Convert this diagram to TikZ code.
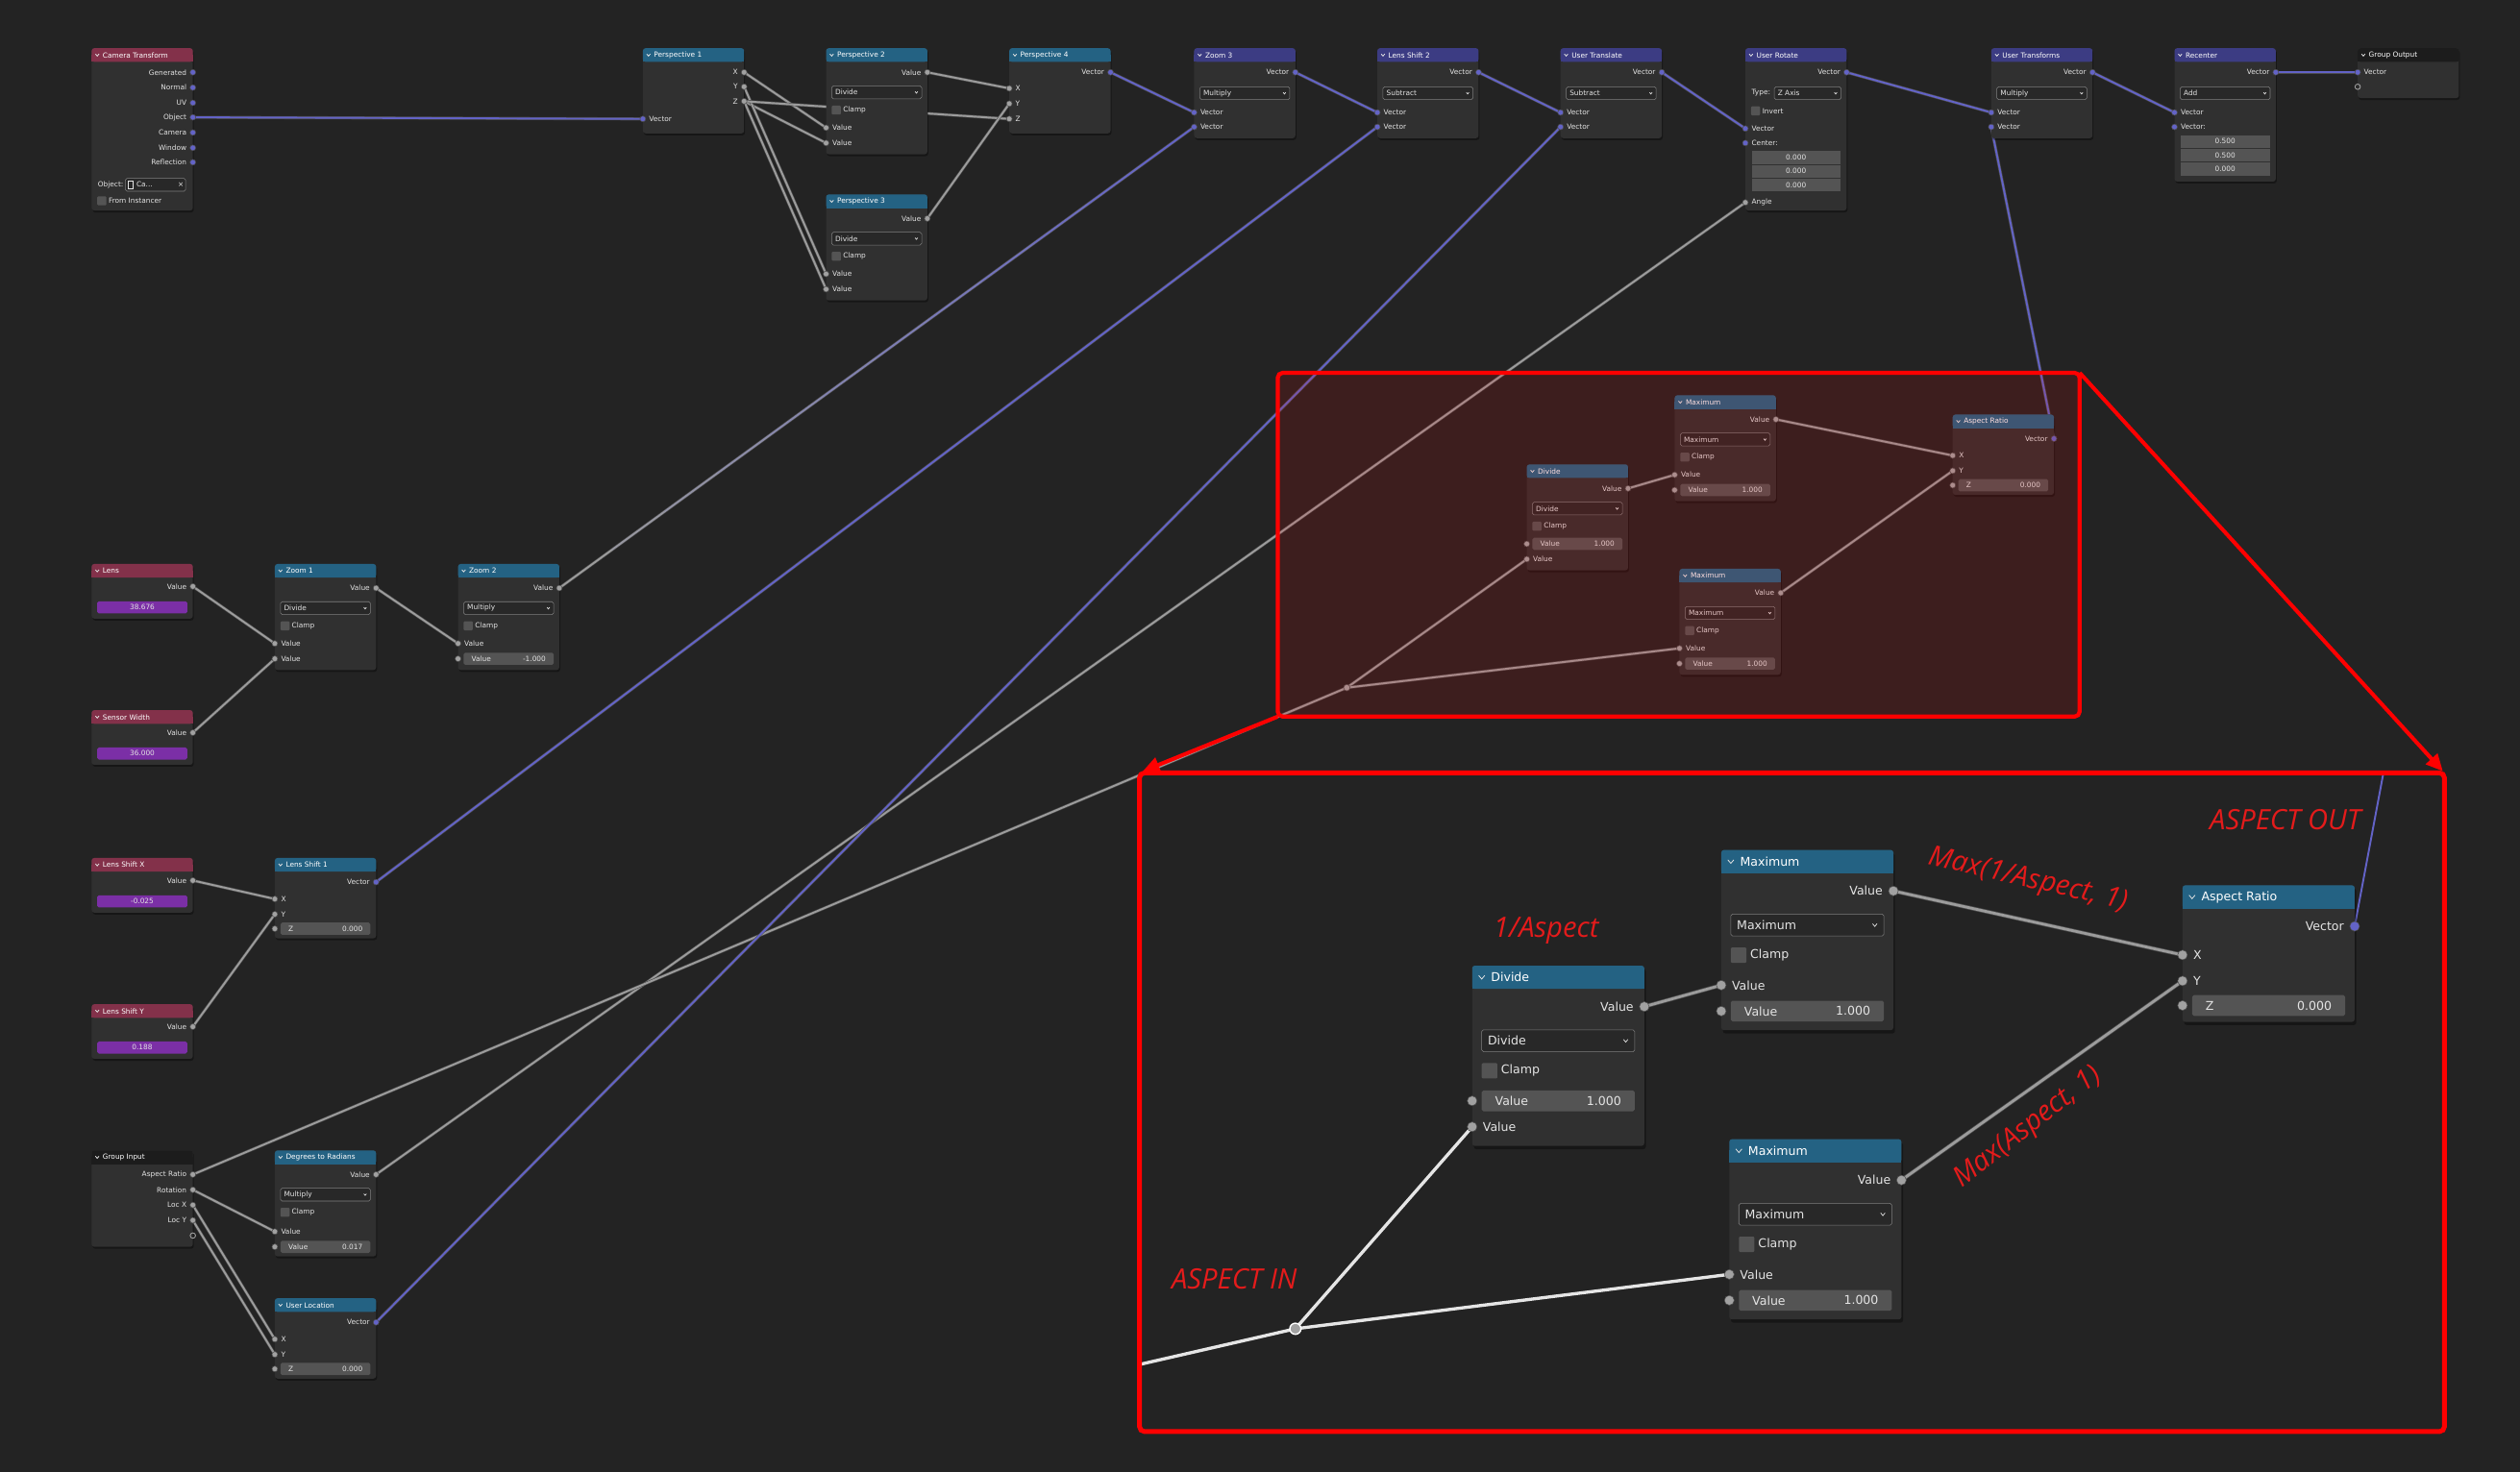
\documentclass[tikz,border=0pt]{standalone}
\usepackage{fontspec}
\setmainfont{DejaVu Sans}
\newfontfamily\handfont{Open Sans}
\usetikzlibrary{arrows.meta, calc}

\definecolor{canvas}{HTML}{232323}
\definecolor{nodebody}{HTML}{303030}
\definecolor{hdrinput}{HTML}{83314A}
\definecolor{hdrconv}{HTML}{246283}
\definecolor{hdrvec}{HTML}{3C3C83}
\definecolor{hdrgroup}{HTML}{1C1C1C}
\definecolor{sockgrey}{HTML}{A1A1A1}
\definecolor{sockvec}{HTML}{6363C7}
\definecolor{wiregrey}{HTML}{9C9C9C}
\definecolor{fieldbg}{HTML}{545454}
\definecolor{ddbg}{HTML}{282828}
\definecolor{valpurple}{HTML}{7B2FA6}
\definecolor{textlight}{HTML}{E4E4E4}
\definecolor{markred}{HTML}{FF0000}
\definecolor{inkred}{HTML}{E41B1B}

\pgfdeclarelayer{back}
\pgfdeclarelayer{wires}
\pgfsetlayers{back,wires,main}

\newcommand{\lblfont}{\fontsize{2.1}{2.4}\selectfont}

% one node: frame, header, title  (#1 name, #2 height, #3 header colour, #4 title)
\newcommand{\nodeframe}[4]{%
  \fill[black, opacity=0.35, rounded corners=0.8pt] (0.6,1.2) rectangle (63.6,#2+1.2);
  \fill[nodebody, rounded corners=0.8pt] (0,0) rectangle (63,#2);
  \fill[#3, rounded corners=0.8pt] (0,0) rectangle (63,8.5);
  \fill[#3] (0,4) rectangle (63,8.5);
  \draw[textlight, line width=0.22pt] (2.4,3.6) -- (3.5,4.9) -- (4.6,3.6);
  \node[ttl, anchor=west] at (6.5,4.3) {#4};
  \coordinate (#1) at (31.5,#2/2);}
\newcommand{\sockout}[4]{%
  \node[#4] (#1) at (63,#2) {};
  \node[lbl, anchor=east] at (59.5,#2) {#3};}
\newcommand{\sockin}[4]{%
  \node[#4] (#1) at (0,#2) {};
  \node[lbl, anchor=west] at (3.5,#2) {#3};}
\newcommand{\valfield}[4]{%
  \node[fsock] (#1) at (0,#2) {};
  \fill[fieldbg, rounded corners=0.5pt] (3.5,#2-3.8) rectangle (59.5,#2+3.8);
  \node[lbl, anchor=west] at (8,#2) {#3};
  \node[lbl, anchor=east] at (55,#2) {#4};}
\newcommand{\numfield}[2]{%
  \filldraw[fill=fieldbg, draw=nodebody, line width=0.2pt] (3.5,#1-4.3) rectangle (59.5,#1+4.3);
  \node[lbl] at (31.5,#1) {#2};}
\newcommand{\dropbox}[3]{%
  \filldraw[fill=ddbg, draw=black!50, line width=0.15pt, rounded corners=0.5pt] (#1,#2-4) rectangle (59.5,#2+4);
  \node[lbl, anchor=west] at (#1+1.8,#2) {#3};
  \draw[textlight, line width=0.2pt] (55.4,#2-0.5) -- (56.2,#2+0.5) -- (57,#2-0.5);}
\newcommand{\checkrow}[2]{%
  \fill[fieldbg, rounded corners=0.3pt] (3.5,#1-2.8) rectangle (9.2,#1+2.8);
  \node[lbl, anchor=west] at (10.2,#1) {#2};}

\newcommand{\mathbox}[3]{%
  \nodeframe{#1}{66}{hdrconv}{#2}
  \sockout{#1-out}{15}{Value}{fsock}
  \dropbox{3.5}{27.5}{#3}
  \checkrow{38.5}{Clamp}}
\newcommand{\vecbox}[3]{%
  \nodeframe{#1}{56}{hdrvec}{#2}
  \sockout{#1-out}{15}{Vector}{vsock}
  \dropbox{3.5}{28}{#3}
  \sockin{#1-a}{40}{Vector}{vsock}
  \sockin{#1-b}{49}{Vector}{vsock}}
\newcommand{\combbox}[2]{%
  \nodeframe{#1}{50}{hdrconv}{#2}
  \sockout{#1-out}{15}{Vector}{vsock}
  \sockin{#1-x}{25.5}{X}{fsock}
  \sockin{#1-y}{35}{Y}{fsock}
  \valfield{#1-z}{44}{Z}{0.000}}
\newcommand{\valbox}[3]{%
  \nodeframe{#1}{34}{hdrinput}{#2}
  \sockout{#1-out}{14}{Value}{fsock}
  \fill[valpurple, rounded corners=0.5pt] (3.5,23.2) rectangle (59.5,30.8);
  \node[lbl] at (31.5,27) {#3};}

% float to vector link, colour blends along it
\newcommand{\mixwire}[2]{%
  \draw[line width=0.9pt, black!70] (#1.center) -- (#2.center);
  \foreach \k in {0,...,11}{%
    \pgfmathtruncatemacro{\mixp}{100-\k*100/11}
    \draw[line width=0.55pt, line cap=round, wiregrey!\mixp!sockvec]
      ($(#1.center)!\k/12!(#2.center)$) -- ($(#1.center)!\k/12+1/12!(#2.center)$);}}

\begin{document}
\begin{tikzpicture}[x=0.1672mm, y=-0.1672mm,
  lbl/.style={font=\lblfont, text=textlight, inner sep=0pt},
  ttl/.style={font=\lblfont, text=white, inner sep=0pt},
  fsock/.style={circle, fill=sockgrey, draw=black!70, line width=0.15pt, inner sep=0pt, minimum size=1.7pt},
  vsock/.style={fsock, fill=sockvec},
  hsock/.style={circle, draw=sockgrey, line width=0.25pt, inner sep=0pt, minimum size=1.6pt},
  wire/.style={draw=wiregrey, line width=0.55pt, preaction={draw=black!70, line width=0.9pt}},
  vwire/.style={wire, draw=sockvec},
  bigwire/.style={draw=wiregrey, line width=0.8pt, preaction={draw=black!70, line width=1.2pt}},
  hotwire/.style={draw=white!90!black, line width=0.95pt},
  framebox/.style={draw=markred, line width=1.2pt, rounded corners=1.5pt},
  redline/.style={markred, line width=1.15pt, -{Triangle[length=5pt, width=4.5pt]}},
  note/.style={font=\handfont\itshape\fontsize{8.3}{9}\selectfont, text=inkred, inner sep=0pt}
]
\useasboundingbox (0,0) rectangle (1568,916);
\begin{pgfonlayer}{back}
  \fill[canvas] (0,0) rectangle (1568,916);
\end{pgfonlayer}

% ---------- camera chain (top row)
\begin{scope}[shift={(57,30)}]
  \nodeframe{cam}{101}{hdrinput}{Camera Transform}
  \sockout{cam-gen}{15}{Generated}{vsock}
  \sockout{cam-nor}{24.5}{Normal}{vsock}
  \sockout{cam-uv}{34}{UV}{vsock}
  \sockout{cam-obj}{43}{Object}{vsock}
  \sockout{cam-cam}{52.5}{Camera}{vsock}
  \sockout{cam-win}{62}{Window}{vsock}
  \sockout{cam-ref}{71}{Reflection}{vsock}
  \node[lbl, anchor=west] at (3.5,85) {Object:};
  \filldraw[fill=ddbg, draw=black!50, line width=0.15pt, rounded corners=0.5pt] (21,81) rectangle (58.5,89);
  \draw[textlight, line width=0.2pt] (23,82.6) rectangle (25.5,87.4);
  \node[lbl, anchor=west] at (27.5,85) {Ca...};
  \node[lbl] at (55.5,85) {×};
  \checkrow{95}{From Instancer}
\end{scope}
\begin{scope}[shift={(400,30)}]
  \nodeframe{pers1}{53}{hdrconv}{Perspective 1}
  \sockout{pers1-x}{15}{X}{fsock}
  \sockout{pers1-y}{24}{Y}{fsock}
  \sockout{pers1-z}{33}{Z}{fsock}
  \sockin{pers1-vec}{44}{Vector}{vsock}
\end{scope}
\begin{scope}[shift={(514,30)}]
  \mathbox{pers2}{Perspective 2}{Divide}
  \sockin{pers2-a}{49.5}{Value}{fsock}
  \sockin{pers2-b}{59}{Value}{fsock}
\end{scope}
\begin{scope}[shift={(514,121)}]
  \mathbox{pers3}{Perspective 3}{Divide}
  \sockin{pers3-a}{49.5}{Value}{fsock}
  \sockin{pers3-b}{59}{Value}{fsock}
\end{scope}
\begin{scope}[shift={(628,30)}]
  \nodeframe{pers4}{53}{hdrconv}{Perspective 4}
  \sockout{pers4-out}{15}{Vector}{vsock}
  \sockin{pers4-x}{25}{X}{fsock}
  \sockin{pers4-y}{34.5}{Y}{fsock}
  \sockin{pers4-z}{44}{Z}{fsock}
\end{scope}
\begin{scope}[shift={(743,30)}]
  \vecbox{zoom3}{Zoom 3}{Multiply}
\end{scope}
\begin{scope}[shift={(857,30)}]
  \vecbox{shift2}{Lens Shift 2}{Subtract}
\end{scope}
\begin{scope}[shift={(971,30)}]
  \vecbox{utrans}{User Translate}{Subtract}
\end{scope}
\begin{scope}[shift={(1086,30)}]
  \nodeframe{urot}{101}{hdrvec}{User Rotate}
  \sockout{urot-out}{15}{Vector}{vsock}
  \node[lbl, anchor=west] at (3.5,28) {Type:};
  \dropbox{18}{28}{Z Axis}
  \checkrow{39}{Invert}
  \sockin{urot-vec}{50}{Vector}{vsock}
  \sockin{urot-cen}{59}{Center:}{vsock}
  \numfield{68}{0.000}
  \numfield{76.6}{0.000}
  \numfield{85.2}{0.000}
  \sockin{urot-angle}{96}{Angle}{fsock}
\end{scope}
\begin{scope}[shift={(1239,30)}]
  \vecbox{utf}{User Transforms}{Multiply}
\end{scope}
\begin{scope}[shift={(1353,30)}]
  \nodeframe{recen}{83}{hdrvec}{Recenter}
  \sockout{recen-out}{15}{Vector}{vsock}
  \dropbox{3.5}{28}{Add}
  \sockin{recen-a}{40}{Vector}{vsock}
  \sockin{recen-b}{49}{Vector:}{vsock}
  \numfield{58}{0.500}
  \numfield{66.6}{0.500}
  \numfield{75.2}{0.000}
\end{scope}
\begin{scope}[shift={(1467,30)}]
  \nodeframe{gout}{31}{hdrgroup}{Group Output}
  \sockin{gout-vec}{15}{Vector}{vsock}
  \node[hsock] (gout-new) at (0,24) {};
\end{scope}

% ---------- inputs (left column)
\begin{scope}[shift={(57,351)}]
  \valbox{lens}{Lens}{38.676}
\end{scope}
\begin{scope}[shift={(57,442)}]
  \valbox{sensor}{Sensor Width}{36.000}
\end{scope}
\begin{scope}[shift={(171,351)}]
  \mathbox{zoom1}{Zoom 1}{Divide}
  \sockin{zoom1-a}{49.5}{Value}{fsock}
  \sockin{zoom1-b}{59}{Value}{fsock}
\end{scope}
\begin{scope}[shift={(285,351)}]
  \mathbox{zoom2}{Zoom 2}{Multiply}
  \sockin{zoom2-a}{49.5}{Value}{fsock}
  \valfield{zoom2-b}{59}{Value}{-1.000}
\end{scope}
\begin{scope}[shift={(57,534)}]
  \valbox{lsx}{Lens Shift X}{-0.025}
\end{scope}
\begin{scope}[shift={(57,625)}]
  \valbox{lsy}{Lens Shift Y}{0.188}
\end{scope}
\begin{scope}[shift={(171,534)}]
  \combbox{shift1}{Lens Shift 1}
\end{scope}
\begin{scope}[shift={(57,716)}]
  \nodeframe{gin}{60}{hdrgroup}{Group Input}
  \sockout{gin-aspect}{15}{Aspect Ratio}{fsock}
  \sockout{gin-rot}{24.5}{Rotation}{fsock}
  \sockout{gin-locx}{34}{Loc X}{fsock}
  \sockout{gin-locy}{43.5}{Loc Y}{fsock}
  \node[hsock] (gin-new) at (63,53) {};
\end{scope}
\begin{scope}[shift={(171,716)}]
  \mathbox{deg}{Degrees to Radians}{Multiply}
  \sockin{deg-a}{50.5}{Value}{fsock}
  \valfield{deg-b}{60}{Value}{0.017}
\end{scope}
\begin{scope}[shift={(171,808)}]
  \combbox{uloc}{User Location}
\end{scope}

% ---------- aspect frame (small)
\begin{scope}[shift={(950,289)}]
  \mathbox{sdiv}{Divide}{Divide}
  \valfield{sdiv-a}{49.5}{Value}{1.000}
  \sockin{sdiv-b}{59}{Value}{fsock}
\end{scope}
\begin{scope}[shift={(1042,246)}]
  \mathbox{smax1}{Maximum}{Maximum}
  \sockin{smax1-a}{49.5}{Value}{fsock}
  \valfield{smax1-b}{59}{Value}{1.000}
\end{scope}
\begin{scope}[shift={(1045,354)}]
  \mathbox{smax2}{Maximum}{Maximum}
  \sockin{smax2-a}{49.5}{Value}{fsock}
  \valfield{smax2-b}{59}{Value}{1.000}
\end{scope}
\begin{scope}[shift={(1215,258)}]
  \combbox{sar}{Aspect Ratio}
\end{scope}
\node[fsock, minimum size=1.9pt] (rr) at (838,428) {};

% ---------- aspect frame (enlarged)
\begin{scope}[shift={(916,601)}, scale=1.7, transform shape]
  \mathbox{bdiv}{Divide}{Divide}
  \valfield{bdiv-a}{49.5}{Value}{1.000}
  \sockin{bdiv-b}{59}{Value}{fsock}
\end{scope}
\begin{scope}[shift={(1071,529)}, scale=1.7, transform shape]
  \mathbox{bmax1}{Maximum}{Maximum}
  \sockin{bmax1-a}{49.5}{Value}{fsock}
  \valfield{bmax1-b}{59}{Value}{1.000}
\end{scope}
\begin{scope}[shift={(1076,709)}, scale=1.7, transform shape]
  \mathbox{bmax2}{Maximum}{Maximum}
  \sockin{bmax2-a}{49.5}{Value}{fsock}
  \valfield{bmax2-b}{59}{Value}{1.000}
\end{scope}
\begin{scope}[shift={(1358,551)}, scale=1.7, transform shape]
  \combbox{bar}{Aspect Ratio}
\end{scope}
\node[circle, fill=sockgrey, draw=white, line width=0.4pt, inner sep=0pt, minimum size=3.3pt] (brr) at (806,827) {};
\coordinate (bigin) at (710,849);
\coordinate (bigout) at (1483,481);

% ---------- links
\begin{pgfonlayer}{wires}
  \draw[wire] (pers1-x.center) -- (pers2-a.center);
  \draw[wire] (pers1-z.center) -- (pers2-b.center);
  \draw[wire] (pers1-y.center) -- (pers3-a.center);
  \draw[wire] (pers1-z.center) -- (pers3-b.center);
  \draw[wire] (pers1-z.center) -- (pers4-z.center);
  \draw[wire] (pers2-out.center) -- (pers4-x.center);
  \draw[wire] (pers3-out.center) -- (pers4-y.center);
  \draw[wire] (lens-out.center) -- (zoom1-a.center);
  \draw[wire] (sensor-out.center) -- (zoom1-b.center);
  \draw[wire] (zoom1-out.center) -- (zoom2-a.center);
  \draw[wire] (lsx-out.center) -- (shift1-x.center);
  \draw[wire] (lsy-out.center) -- (shift1-y.center);
  \draw[wire] (gin-rot.center) -- (deg-a.center);
  \draw[wire] (gin-locx.center) -- (uloc-x.center);
  \draw[wire] (gin-locy.center) -- (uloc-y.center);
  \draw[wire] (deg-out.center) -- (urot-angle.center);
  \draw[wire] (gin-aspect.center) -- (rr.center);
  \draw[wire] (rr.center) -- (sdiv-b.center);
  \draw[wire] (rr.center) -- (smax2-a.center);
  \draw[wire] (sdiv-out.center) -- (smax1-a.center);
  \draw[wire] (smax1-out.center) -- (sar-x.center);
  \draw[wire] (smax2-out.center) -- (sar-y.center);
  \mixwire{zoom2-out}{zoom3-b}
  \draw[vwire] (cam-obj.center) -- (pers1-vec.center);
  \draw[vwire] (pers4-out.center) -- (zoom3-a.center);
  \draw[vwire] (zoom3-out.center) -- (shift2-a.center);
  \draw[vwire] (shift2-out.center) -- (utrans-a.center);
  \draw[vwire] (utrans-out.center) -- (urot-vec.center);
  \draw[vwire] (urot-out.center) -- (utf-a.center);
  \draw[vwire] (utf-out.center) -- (recen-a.center);
  \draw[vwire] (recen-out.center) -- (gout-vec.center);
  \draw[vwire] (shift1-out.center) -- (shift2-b.center);
  \draw[vwire] (uloc-out.center) -- (utrans-b.center);
  \draw[vwire] (sar-out.center) -- (utf-b.center);
  % enlarged copy
  \draw[hotwire] (bigin) -- (brr.center);
  \draw[hotwire] (brr.center) -- (bdiv-b.center);
  \draw[hotwire] (brr.center) -- (bmax2-a.center);
  \draw[bigwire] (bdiv-out.center) -- (bmax1-a.center);
  \draw[bigwire] (bmax1-out.center) -- (bar-x.center);
  \draw[bigwire] (bmax2-out.center) -- (bar-y.center);
  \draw[draw=sockvec, line width=0.55pt] (bar-out.center) -- (bigout);
\end{pgfonlayer}

% ---------- red markup
\fill[markred, fill opacity=0.12, rounded corners=1.5pt] (795,232) rectangle (1294,446);
\draw[framebox] (795,232) coordinate (zoomNW) rectangle (1294,446) coordinate (zoomSE);
\draw[framebox, line width=1.4pt] (709,481) coordinate (bigNW) rectangle (1521,891) coordinate (bigSE);
\coordinate (zoomSW) at (zoomNW |- zoomSE);
\coordinate (zoomNE) at (zoomSE |- zoomNW);
\coordinate (bigNE) at (bigSE |- bigNW);
\draw[redline] (zoomSW) -- ($(bigNW)+(2,-1)$);
\draw[redline] (zoomNE) -- ($(bigNE)+(-1,-1)$);

\node[note] (n-recip) at (962,579) {1/Aspect};
\node[note] (n-in) at (768,796) {ASPECT IN};
\node[note] (n-out) at (1422,510) {ASPECT OUT};
\node[note, rotate=-13] (n-max1) at (1262,548) {Max(1/Aspect, 1)};
\node[note, rotate=38] (n-max2) at (1262,702) {Max(Aspect, 1)};
\end{tikzpicture}
\end{document}
